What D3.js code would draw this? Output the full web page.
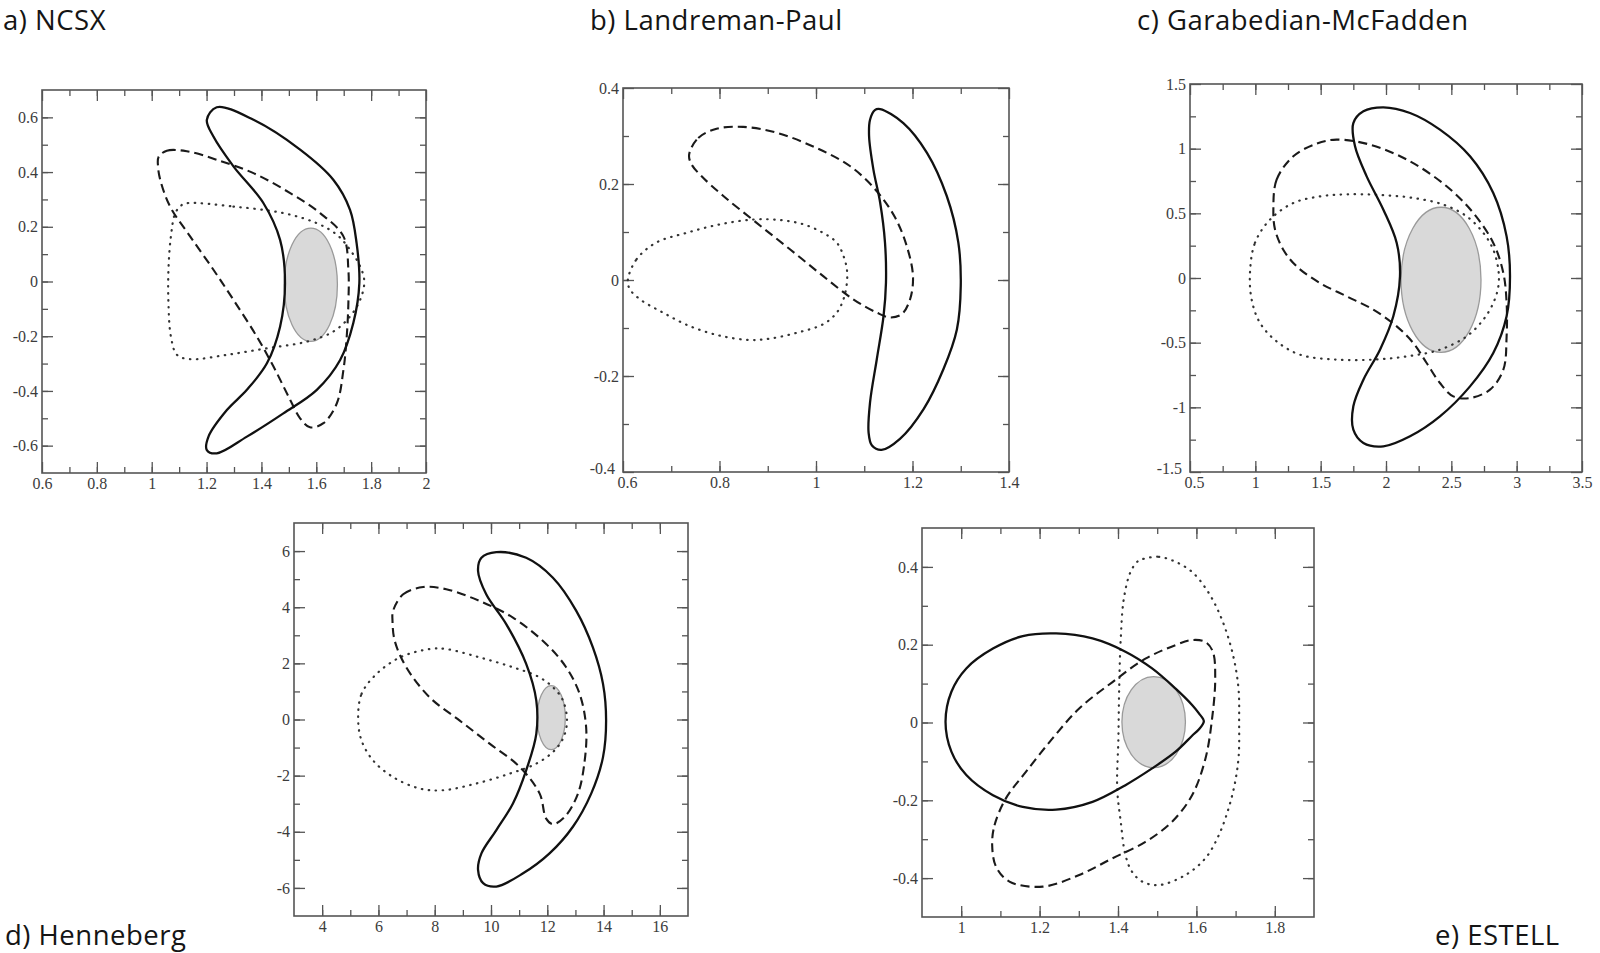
<!DOCTYPE html>
<html>
<head>
<meta charset="utf-8">
<script src="https://cdn.jsdelivr.net/npm/d3@7"></script>
<style>
  html, body { margin: 0; padding: 0; background: #fff; }
  svg { display: block; }
  .title { font-family: "Open Sans", sans-serif; font-size: 27.5px; fill: #151515; letter-spacing: 0.5px; }
  .tick text { font-family: "Liberation Serif", "DejaVu Serif", serif; font-size: 16px; fill: #3c3c3c; }
  .tick line { stroke: #555; stroke-width: 1.3; }
</style>
</head>
<body>
<svg id="chart" width="1600" height="953"></svg>
<script>
// ---------------- DATA ----------------
const panelTitles = ["a) NCSX", "b) Landreman-Paul", "c) Garabedian-McFadden", "d) Henneberg", "e) ESTELL"];

// a) NCSX
const ncsxSolid = [[1.237,0.637],[1.371,0.591],[1.541,0.482],[1.662,0.372],[1.723,0.262],[1.747,0.140],[1.757,-0.006],[1.735,-0.152],[1.687,-0.287],[1.602,-0.396],[1.480,-0.482],[1.347,-0.567],[1.237,-0.628],[1.201,-0.616],[1.207,-0.567],[1.274,-0.470],[1.347,-0.396],[1.420,-0.299],[1.468,-0.165],[1.486,-0.006],[1.468,0.152],[1.407,0.287],[1.298,0.421],[1.225,0.530],[1.201,0.591]];
const ncsxDashed = [[1.025,0.455],[1.055,0.478],[1.128,0.476],[1.237,0.445],[1.371,0.396],[1.505,0.323],[1.614,0.250],[1.699,0.165],[1.717,0.043],[1.717,-0.079],[1.711,-0.201],[1.699,-0.323],[1.675,-0.445],[1.626,-0.518],[1.577,-0.533],[1.541,-0.500],[1.505,-0.433],[1.444,-0.311],[1.383,-0.201],[1.298,-0.067],[1.225,0.043],[1.140,0.165],[1.067,0.274],[1.031,0.372],[1.023,0.421]];
const ncsxDotted = [[1.134,0.287],[1.298,0.274],[1.480,0.250],[1.602,0.213],[1.675,0.171],[1.723,0.116],[1.760,0.055],[1.775,0.000],[1.760,-0.067],[1.723,-0.128],[1.662,-0.183],[1.565,-0.220],[1.420,-0.244],[1.274,-0.268],[1.140,-0.284],[1.092,-0.268],[1.070,-0.201],[1.061,-0.079],[1.061,0.043],[1.070,0.165],[1.086,0.250],[1.110,0.280]];
const ncsxEllipse = [1.580, -0.012, 0.097, 0.207];
const ncsxXTicks = [0.6, 0.8, 1, 1.2, 1.4, 1.6, 1.8, 2];
const ncsxYTicks = [-0.6, -0.4, -0.2, 0, 0.2, 0.4, 0.6];

// b) Landreman-Paul
const lpSolid = [[1.133,0.356],[1.181,0.327],[1.230,0.265],[1.271,0.175],[1.295,0.078],[1.300,-0.012],[1.292,-0.103],[1.264,-0.186],[1.223,-0.269],[1.174,-0.331],[1.136,-0.354],[1.116,-0.345],[1.109,-0.318],[1.112,-0.255],[1.126,-0.165],[1.140,-0.075],[1.145,-0.006],[1.143,0.078],[1.133,0.161],[1.119,0.230],[1.110,0.300],[1.112,0.334],[1.122,0.354]];
const lpDashed = [[0.737,0.261],[0.756,0.296],[0.794,0.315],[0.849,0.319],[0.918,0.307],[1.001,0.275],[1.071,0.237],[1.126,0.185],[1.164,0.130],[1.188,0.071],[1.201,0.008],[1.195,-0.040],[1.178,-0.071],[1.154,-0.078],[1.126,-0.068],[1.077,-0.040],[1.015,0.008],[0.946,0.064],[0.877,0.119],[0.808,0.175],[0.763,0.216],[0.742,0.241]];
const lpDotted = [[0.610,0.000],[0.628,0.043],[0.669,0.078],[0.731,0.098],[0.801,0.116],[0.870,0.126],[0.925,0.125],[0.974,0.116],[1.015,0.098],[1.043,0.078],[1.057,0.050],[1.064,0.022],[1.064,-0.006],[1.057,-0.040],[1.043,-0.068],[1.015,-0.092],[0.960,-0.110],[0.905,-0.122],[0.863,-0.125],[0.801,-0.116],[0.738,-0.096],[0.683,-0.068],[0.635,-0.040],[0.614,-0.019]];
const lpXTicks = [0.6, 0.8, 1, 1.2, 1.4];
const lpYTicks = [-0.4, -0.2, 0, 0.2, 0.4];

// c) Garabedian-McFadden
const gmSolid = [[1.980,1.320],[2.184,1.276],[2.413,1.147],[2.643,0.941],[2.821,0.657],[2.923,0.322],[2.949,0.013],[2.923,-0.296],[2.821,-0.580],[2.643,-0.838],[2.413,-1.070],[2.184,-1.224],[1.980,-1.302],[1.827,-1.276],[1.750,-1.173],[1.750,-0.992],[1.827,-0.786],[1.954,-0.554],[2.056,-0.296],[2.107,0.013],[2.082,0.271],[1.980,0.528],[1.852,0.786],[1.763,1.018],[1.750,1.198],[1.827,1.289]];
const gmDashed = [[1.138,0.528],[1.163,0.760],[1.291,0.941],[1.469,1.039],[1.622,1.070],[1.878,1.031],[2.184,0.902],[2.464,0.709],[2.668,0.503],[2.821,0.271],[2.898,0.039],[2.923,-0.193],[2.923,-0.451],[2.898,-0.709],[2.796,-0.863],[2.643,-0.928],[2.515,-0.915],[2.413,-0.812],[2.311,-0.657],[2.209,-0.503],[2.082,-0.374],[1.903,-0.245],[1.699,-0.142],[1.495,-0.039],[1.316,0.090],[1.214,0.219],[1.151,0.374]];
const gmDotted = [[0.959,0.039],[0.997,0.271],[1.112,0.451],[1.291,0.580],[1.495,0.631],[1.699,0.647],[1.954,0.642],[2.209,0.619],[2.439,0.567],[2.617,0.477],[2.745,0.348],[2.821,0.219],[2.860,0.064],[2.860,-0.064],[2.821,-0.193],[2.745,-0.322],[2.617,-0.451],[2.413,-0.554],[2.158,-0.606],[1.903,-0.631],[1.622,-0.631],[1.342,-0.593],[1.163,-0.490],[1.036,-0.348],[0.972,-0.168]];
const gmEllipse = [2.421, -0.014, 0.306, 0.561];
const gmXTicks = [0.5, 1, 1.5, 2, 2.5, 3, 3.5];
const gmYTicks = [-1.5, -1, -0.5, 0, 0.5, 1, 1.5];

// d) Henneberg
const hbSolid = [[10.19,5.96],[11.25,5.76],[12.20,5.05],[13.03,3.87],[13.62,2.57],[13.98,1.27],[14.09,-0.04],[13.98,-1.34],[13.56,-2.64],[12.91,-3.82],[12.08,-4.77],[11.14,-5.48],[10.19,-5.95],[9.72,-5.83],[9.54,-5.36],[9.66,-4.77],[10.19,-3.94],[10.78,-2.99],[11.25,-1.81],[11.61,-0.51],[11.61,0.67],[11.25,1.98],[10.54,3.40],[9.83,4.46],[9.54,5.29],[9.66,5.76]];
const hbDashed = [[6.52,3.87],[6.88,4.46],[7.59,4.72],[8.41,4.64],[9.60,4.22],[10.78,3.63],[11.96,2.69],[12.67,1.86],[13.15,0.91],[13.38,-0.27],[13.33,-1.46],[13.09,-2.64],[12.62,-3.47],[12.20,-3.73],[11.96,-3.53],[11.73,-2.64],[11.02,-1.69],[9.95,-0.86],[8.89,-0.04],[7.82,0.79],[6.99,1.86],[6.58,2.80],[6.50,3.51]];
const hbDotted = [[5.28,0.00],[5.40,0.91],[5.93,1.62],[6.76,2.21],[7.82,2.51],[8.41,2.51],[9.60,2.21],[10.78,1.86],[11.73,1.50],[12.26,1.09],[12.56,0.67],[12.70,-0.04],[12.58,-0.63],[12.26,-1.10],[11.61,-1.57],[10.66,-1.93],[9.48,-2.28],[8.30,-2.52],[7.47,-2.46],[6.52,-2.05],[5.81,-1.46],[5.40,-0.75]];
const hbEllipse = [12.14, 0.07, 0.50, 1.14];
const hbXTicks = [4, 6, 8, 10, 12, 14, 16];
const hbYTicks = [-6, -4, -2, 0, 2, 4, 6];

// e) ESTELL
const esSolid = [[0.960,0.002],[0.975,0.079],[1.013,0.139],[1.081,0.190],[1.157,0.222],[1.242,0.229],[1.335,0.216],[1.419,0.182],[1.487,0.139],[1.547,0.087],[1.589,0.045],[1.606,0.024],[1.619,0.003],[1.606,-0.018],[1.589,-0.034],[1.547,-0.075],[1.487,-0.118],[1.419,-0.161],[1.335,-0.204],[1.242,-0.224],[1.157,-0.217],[1.081,-0.187],[1.013,-0.135],[0.975,-0.075]];
const esDashed = [[1.079,-0.315],[1.085,-0.264],[1.114,-0.195],[1.165,-0.127],[1.233,-0.041],[1.301,0.036],[1.386,0.104],[1.470,0.164],[1.547,0.199],[1.589,0.212],[1.623,0.207],[1.642,0.182],[1.648,0.113],[1.640,0.010],[1.623,-0.093],[1.589,-0.187],[1.538,-0.255],[1.470,-0.307],[1.386,-0.349],[1.301,-0.392],[1.208,-0.422],[1.123,-0.409],[1.089,-0.371]];
const esDotted = [[1.466,0.421],[1.504,0.426],[1.547,0.413],[1.589,0.387],[1.627,0.340],[1.657,0.284],[1.682,0.216],[1.699,0.147],[1.708,0.079],[1.709,0.002],[1.708,-0.084],[1.699,-0.152],[1.682,-0.221],[1.657,-0.290],[1.623,-0.349],[1.572,-0.392],[1.504,-0.418],[1.462,-0.409],[1.436,-0.384],[1.419,-0.341],[1.407,-0.255],[1.398,-0.170],[1.401,-0.041],[1.403,0.087],[1.407,0.216],[1.415,0.319],[1.432,0.387],[1.451,0.415]];
const esEllipse = [1.491, 0.001, 0.081, 0.117];
const esXTicks = [1, 1.2, 1.4, 1.6, 1.8];
const esYTicks = [-0.4, -0.2, 0, 0.2, 0.4];

// ---------------- LAYOUT ----------------
const svg = d3.select("#chart");

const panels = [
  { solid: ncsxSolid, dashed: ncsxDashed, dotted: ncsxDotted, ellipse: ncsxEllipse,
    xd: [0.6, 2], yd: [-0.7, 0.7], box: [42, 90, 426, 473],
    xt: ncsxXTicks, yt: ncsxYTicks, xm: 0.1, ym: 0.1 },
  { solid: lpSolid, dashed: lpDashed, dotted: lpDotted, ellipse: null,
    xd: [0.6, 1.4], yd: [-0.4, 0.4], box: [623, 88, 1009, 472],
    xt: lpXTicks, yt: lpYTicks, xm: 0.1, ym: 0.1 },
  { solid: gmSolid, dashed: gmDashed, dotted: gmDotted, ellipse: gmEllipse,
    xd: [0.5, 3.5], yd: [-1.5, 1.5], box: [1190, 84, 1582, 472],
    xt: gmXTicks, yt: gmYTicks, xm: 0.25, ym: 0.25 },
  { solid: hbSolid, dashed: hbDashed, dotted: hbDotted, ellipse: hbEllipse,
    xd: [3, 17], yd: [-7, 7], box: [294, 523, 688, 916],
    xt: hbXTicks, yt: hbYTicks, xm: 1, ym: 1 },
  { solid: esSolid, dashed: esDashed, dotted: esDotted, ellipse: esEllipse,
    xd: [0.9, 1.9], yd: [-0.5, 0.5], box: [922, 528, 1314, 917],
    xt: esXTicks, yt: esYTicks, xm: 0.1, ym: 0.1 }
];

const titlePos = [[3, 29.5], [590, 29.5], [1137, 29.5], [5, 945], [1435, 945]];

function minorTicks(dom, step) {
  const out = [];
  const n = Math.round((dom[1] - dom[0]) / step);
  for (let i = 1; i < n; i++) out.push(+(dom[0] + i * step).toFixed(6));
  return out;
}

panels.forEach((p, i) => {
  const [x0, y0, x1, y1] = p.box;
  const x = d3.scaleLinear().domain(p.xd).range([x0, x1]);
  const y = d3.scaleLinear().domain(p.yd).range([y1, y0]);
  const g = svg.append("g");
  const fmt = d => String(d);
  const noDomain = a => a.select(".domain").remove();

  const xm = minorTicks(p.xd, p.xm), ym = minorTicks(p.yd, p.ym);

  // minor ticks (all four sides, pointing inward)
  g.append("g").attr("transform", `translate(0,${y1})`).call(d3.axisBottom(x).tickValues(xm).tickSize(-6).tickSizeOuter(0).tickFormat("")).call(noDomain);
  g.append("g").attr("transform", `translate(0,${y0})`).call(d3.axisTop(x).tickValues(xm).tickSize(-6).tickSizeOuter(0).tickFormat("")).call(noDomain);
  g.append("g").attr("transform", `translate(${x0},0)`).call(d3.axisLeft(y).tickValues(ym).tickSize(-6).tickSizeOuter(0).tickFormat("")).call(noDomain);
  g.append("g").attr("transform", `translate(${x1},0)`).call(d3.axisRight(y).tickValues(ym).tickSize(-6).tickSizeOuter(0).tickFormat("")).call(noDomain);

  // major ticks, labels on bottom and left
  const bottomAx = g.append("g").attr("transform", `translate(0,${y1})`).call(d3.axisBottom(x).tickValues(p.xt).tickSize(-11).tickSizeOuter(0).tickPadding(5).tickFormat(fmt)).call(noDomain);
  g.append("g").attr("transform", `translate(0,${y0})`).call(d3.axisTop(x).tickValues(p.xt).tickSize(-11).tickSizeOuter(0).tickFormat("")).call(noDomain);
  const leftAx = g.append("g").attr("transform", `translate(${x0},0)`).call(d3.axisLeft(y).tickValues(p.yt).tickSize(-11).tickSizeOuter(0).tickPadding(4).tickFormat(fmt)).call(noDomain);
  g.append("g").attr("transform", `translate(${x1},0)`).call(d3.axisRight(y).tickValues(p.yt).tickSize(-11).tickSizeOuter(0).tickFormat("")).call(noDomain);

  // where the lowest y label meets the first x label at the corner, ease them apart
  if (p.xt[0] === p.xd[0] && p.yt[0] === p.yd[0]) {
    leftAx.selectAll(".tick").filter(d => d === p.yd[0]).select("text").attr("dx", -4).attr("dy", "0.1em");
    bottomAx.selectAll(".tick").filter(d => d === p.xd[0]).select("text").attr("dx", 4);
  }

  g.selectAll(".tick text").attr("fill", "#3c3c3c");

  // frame
  g.append("rect").attr("x", x0).attr("y", y0).attr("width", x1 - x0).attr("height", y1 - y0)
    .attr("fill", "none").attr("stroke", "#555").attr("stroke-width", 1.6);

  const line = d3.line().x(d => x(d[0])).y(d => y(d[1])).curve(d3.curveCatmullRomClosed.alpha(0.5));

  // grey plasma ellipse
  if (p.ellipse) {
    const [cx, cy, rx, ry] = p.ellipse;
    g.append("ellipse")
      .attr("cx", x(cx)).attr("cy", y(cy))
      .attr("rx", x(cx + rx) - x(cx)).attr("ry", y(cy) - y(cy + ry))
      .attr("fill", "#d9d9d9").attr("stroke", "#9a9a9a").attr("stroke-width", 1.3);
  }

  g.append("path").datum(p.dotted).attr("d", line)
    .attr("fill", "none").attr("stroke", "#333").attr("stroke-width", 2.2)
    .attr("stroke-linecap", "round").attr("stroke-dasharray", "0.5,6.5");
  g.append("path").datum(p.dashed).attr("d", line)
    .attr("fill", "none").attr("stroke", "#1a1a1a").attr("stroke-width", 2.1)
    .attr("stroke-dasharray", "9,5");
  g.append("path").datum(p.solid).attr("d", line)
    .attr("fill", "none").attr("stroke", "#111").attr("stroke-width", 2.3);

  svg.append("text").attr("class", "title")
    .attr("x", titlePos[i][0]).attr("y", titlePos[i][1])
    .text(panelTitles[i]);
});
</script>
</body>
</html>
